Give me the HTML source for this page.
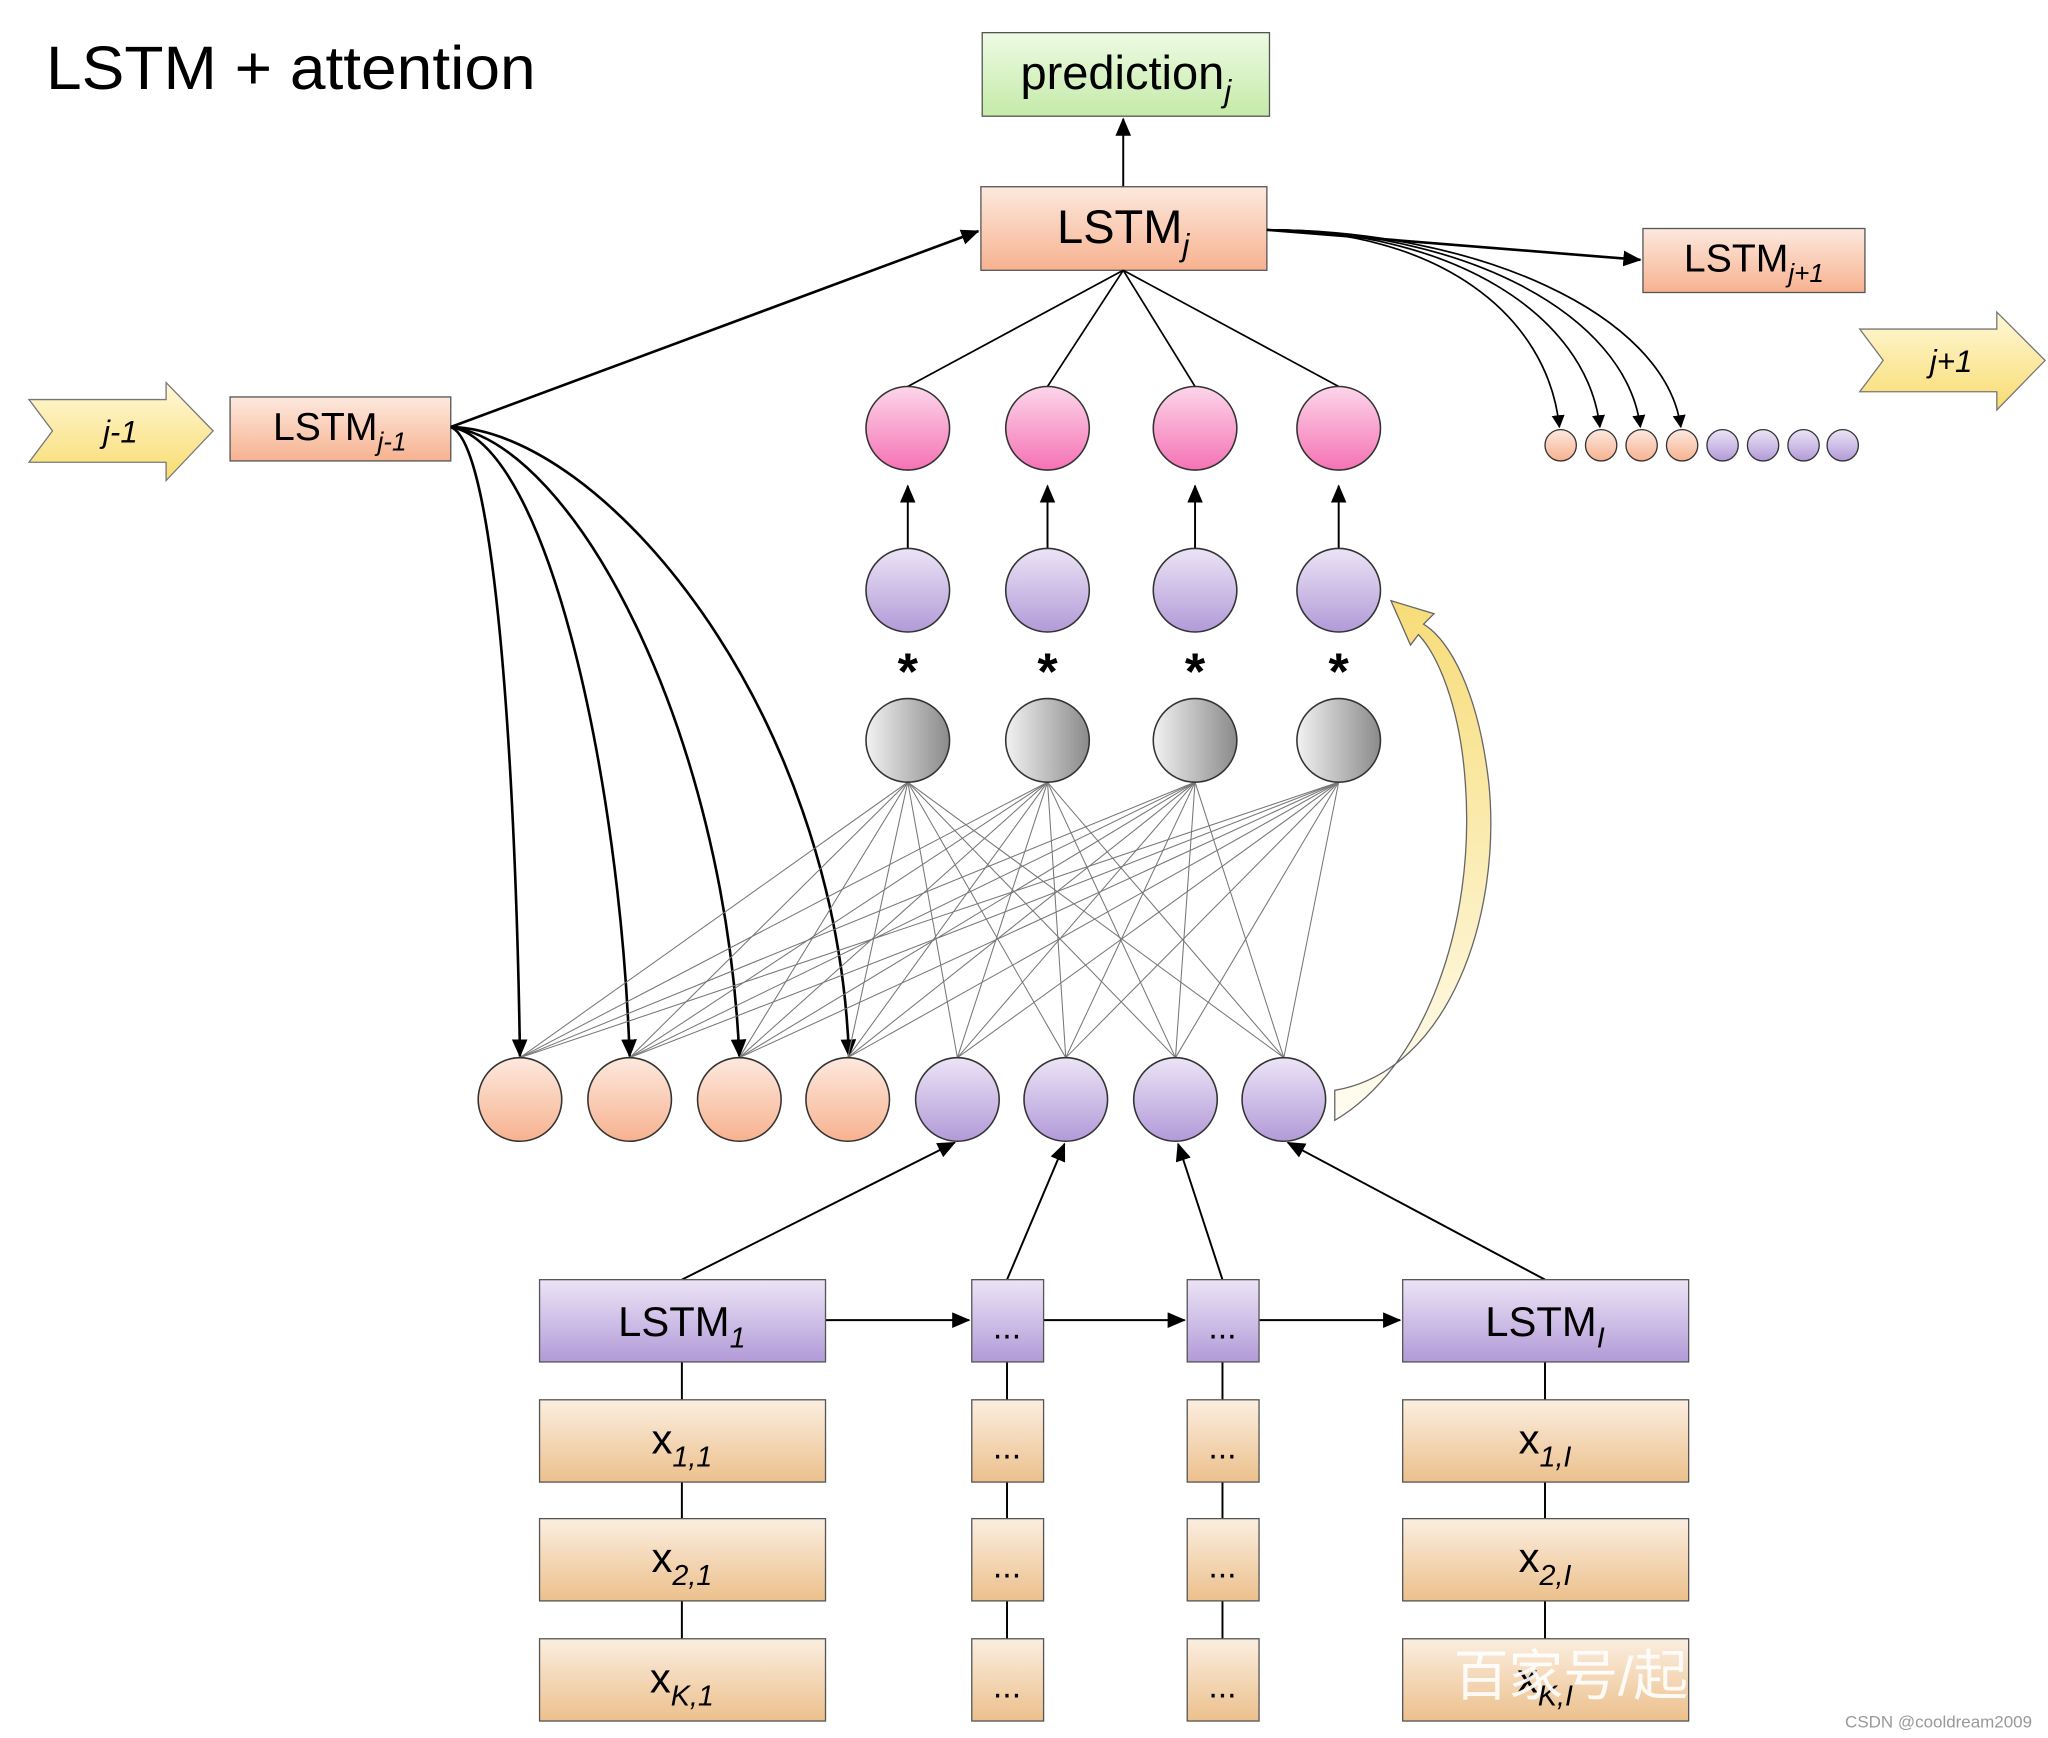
<!DOCTYPE html>
<html><head><meta charset="utf-8"><style>
html,body{margin:0;padding:0;background:#fff;}
svg{display:block;}
text{font-family:"Liberation Sans","Noto Sans CJK SC",sans-serif;}
</style></head><body>
<svg width="2048" height="1738" viewBox="0 0 1568 1331" xmlns="http://www.w3.org/2000/svg">
<defs>
<linearGradient id="gr" x1="0" y1="0" x2="0" y2="1"><stop offset="0" stop-color="#eefbe4"/><stop offset="1" stop-color="#c4eaa8"/></linearGradient>
<linearGradient id="sa" x1="0" y1="0" x2="0" y2="1"><stop offset="0" stop-color="#fde9de"/><stop offset="1" stop-color="#f7b290"/></linearGradient>
<linearGradient id="pu" x1="0" y1="0" x2="0" y2="1"><stop offset="0" stop-color="#ece4f6"/><stop offset="1" stop-color="#b29ad8"/></linearGradient>
<linearGradient id="ta" x1="0" y1="0" x2="0" y2="1"><stop offset="0" stop-color="#fbeee0"/><stop offset="1" stop-color="#ecc08c"/></linearGradient>
<linearGradient id="pk" x1="0" y1="0" x2="0" y2="1"><stop offset="0" stop-color="#fcd6ea"/><stop offset="1" stop-color="#f572b4"/></linearGradient>
<linearGradient id="gy" x1="0" y1="0" x2="1" y2="0"><stop offset="0" stop-color="#f2f2f2"/><stop offset="1" stop-color="#8a8a8a"/></linearGradient>
<linearGradient id="ye" x1="0" y1="0" x2="0" y2="1"><stop offset="0" stop-color="#fff8d8"/><stop offset="1" stop-color="#f8dc70"/></linearGradient>
<linearGradient id="ya" x1="0" y1="1" x2="0" y2="0"><stop offset="0" stop-color="#fffdf2"/><stop offset="1" stop-color="#f7dc78"/></linearGradient>
<marker id="ar" markerWidth="10" markerHeight="10" refX="9" refY="5" orient="auto" markerUnits="userSpaceOnUse"><path d="M0,0 L10,5 L0,10 z" fill="#000"/></marker>
<marker id="ars" markerWidth="14" markerHeight="12" refX="13" refY="6" orient="auto" markerUnits="userSpaceOnUse"><path d="M0,0 L14,6 L0,12 z" fill="#000"/></marker>
</defs>

<text x="35" y="68" font-size="47" textLength="375" lengthAdjust="spacingAndGlyphs">LSTM + attention</text>

<rect x="752" y="25" width="220" height="64" fill="url(#gr)" stroke="#555"/>
<text x="862" y="68" font-size="36" text-anchor="middle">prediction<tspan font-size="24" dy="10" font-style="italic">j</tspan></text>
<line x1="860" y1="143" x2="860" y2="91" stroke="#000" stroke-width="1.5" marker-end="url(#ars)"/>

<rect x="751" y="143" width="219" height="64" fill="url(#sa)" stroke="#555"/>
<text x="860" y="186" font-size="36" text-anchor="middle">LSTM<tspan font-size="24" dy="10" font-style="italic">j</tspan></text>

<rect x="1258" y="175" width="170" height="49" fill="url(#sa)" stroke="#555"/>
<text x="1343" y="208" font-size="30" text-anchor="middle">LSTM<tspan font-size="20" dy="8" font-style="italic">j+1</tspan></text>
<line x1="970" y1="176" x2="1256" y2="199" stroke="#000" stroke-width="2" marker-end="url(#ars)"/>

<rect x="176" y="304" width="169" height="49" fill="url(#sa)" stroke="#555"/>
<text x="260" y="337" font-size="30" text-anchor="middle">LSTM<tspan font-size="20" dy="8" font-style="italic">j-1</tspan></text>
<line x1="345" y1="327" x2="749" y2="177" stroke="#000" stroke-width="2" marker-end="url(#ars)"/>

<path d="M22,306 L127,306 L127,293 L163,330 L127,368 L127,354 L22,354 L40,330 z" fill="url(#ye)" stroke="#777"/>
<text x="92" y="339" font-size="24" text-anchor="middle" font-style="italic">j-1</text>
<path d="M1424,252 L1529,252 L1529,239 L1566,276 L1529,314 L1529,300 L1424,300 L1442,276 z" fill="url(#ye)" stroke="#777"/>
<text x="1494" y="285" font-size="24" text-anchor="middle" font-style="italic">j+1</text>

<g fill="none" stroke="#000" stroke-width="1.3" marker-end="url(#ar)">
<path d="M970,176 C1100,176 1185,240 1194,327"/>
<path d="M970,176 C1110,176 1215,240 1225,327"/>
<path d="M970,176 C1120,176 1245,240 1256,327"/>
<path d="M970,176 C1130,176 1275,240 1287,327"/>
</g>
<g stroke="#333" stroke-width="1">
<circle cx="1195" cy="341" r="12" fill="url(#sa)"/>
<circle cx="1226" cy="341" r="12" fill="url(#sa)"/>
<circle cx="1257" cy="341" r="12" fill="url(#sa)"/>
<circle cx="1288" cy="341" r="12" fill="url(#sa)"/>
<circle cx="1319" cy="341" r="12" fill="url(#pu)"/>
<circle cx="1350" cy="341" r="12" fill="url(#pu)"/>
<circle cx="1381" cy="341" r="12" fill="url(#pu)"/>
<circle cx="1411" cy="341" r="12" fill="url(#pu)"/>
</g>

<g fill="none" stroke="#000" stroke-width="2" marker-end="url(#ars)">
<path d="M345,327 C380,340 395,600 398,809"/>
<path d="M345,327 C420,340 475,600 482,809"/>
<path d="M345,327 C440,340 555,560 566,809"/>
<path d="M345,327 C460,330 640,540 650,809"/>
</g>

<g stroke="#000" stroke-width="1.3">
<line x1="860" y1="207" x2="695" y2="296"/>
<line x1="860" y1="207" x2="802" y2="296"/>
<line x1="860" y1="207" x2="915" y2="296"/>
<line x1="860" y1="207" x2="1025" y2="296"/>
</g>

<g stroke="#777" stroke-width="0.8">
<line x1="695" y1="599" x2="398" y2="810"/><line x1="695" y1="599" x2="482" y2="810"/><line x1="695" y1="599" x2="566" y2="810"/><line x1="695" y1="599" x2="649" y2="810"/><line x1="695" y1="599" x2="733" y2="810"/><line x1="695" y1="599" x2="816" y2="810"/><line x1="695" y1="599" x2="900" y2="810"/><line x1="695" y1="599" x2="983" y2="810"/>
<line x1="802" y1="599" x2="398" y2="810"/><line x1="802" y1="599" x2="482" y2="810"/><line x1="802" y1="599" x2="566" y2="810"/><line x1="802" y1="599" x2="649" y2="810"/><line x1="802" y1="599" x2="733" y2="810"/><line x1="802" y1="599" x2="816" y2="810"/><line x1="802" y1="599" x2="900" y2="810"/><line x1="802" y1="599" x2="983" y2="810"/>
<line x1="915" y1="599" x2="398" y2="810"/><line x1="915" y1="599" x2="482" y2="810"/><line x1="915" y1="599" x2="566" y2="810"/><line x1="915" y1="599" x2="649" y2="810"/><line x1="915" y1="599" x2="733" y2="810"/><line x1="915" y1="599" x2="816" y2="810"/><line x1="915" y1="599" x2="900" y2="810"/><line x1="915" y1="599" x2="983" y2="810"/>
<line x1="1025" y1="599" x2="398" y2="810"/><line x1="1025" y1="599" x2="482" y2="810"/><line x1="1025" y1="599" x2="566" y2="810"/><line x1="1025" y1="599" x2="649" y2="810"/><line x1="1025" y1="599" x2="733" y2="810"/><line x1="1025" y1="599" x2="816" y2="810"/><line x1="1025" y1="599" x2="900" y2="810"/><line x1="1025" y1="599" x2="983" y2="810"/>
</g>

<g stroke="#333" stroke-width="1.2">
<line x1="695" y1="420" x2="695" y2="372" stroke="#000" stroke-width="1.5" marker-end="url(#ars)"/>
<line x1="802" y1="420" x2="802" y2="372" stroke="#000" stroke-width="1.5" marker-end="url(#ars)"/>
<line x1="915" y1="420" x2="915" y2="372" stroke="#000" stroke-width="1.5" marker-end="url(#ars)"/>
<line x1="1025" y1="420" x2="1025" y2="372" stroke="#000" stroke-width="1.5" marker-end="url(#ars)"/>
<circle cx="695" cy="328" r="32" fill="url(#pk)"/><circle cx="802" cy="328" r="32" fill="url(#pk)"/><circle cx="915" cy="328" r="32" fill="url(#pk)"/><circle cx="1025" cy="328" r="32" fill="url(#pk)"/>
<circle cx="695" cy="452" r="32" fill="url(#pu)"/><circle cx="802" cy="452" r="32" fill="url(#pu)"/><circle cx="915" cy="452" r="32" fill="url(#pu)"/><circle cx="1025" cy="452" r="32" fill="url(#pu)"/>
<circle cx="695" cy="567" r="32" fill="url(#gy)"/><circle cx="802" cy="567" r="32" fill="url(#gy)"/><circle cx="915" cy="567" r="32" fill="url(#gy)"/><circle cx="1025" cy="567" r="32" fill="url(#gy)"/>
</g>
<g font-size="40" text-anchor="middle" font-weight="bold">
<text x="695" y="528">*</text><text x="802" y="528">*</text><text x="915" y="528">*</text><text x="1025" y="528">*</text>
</g>

<g stroke="#333" stroke-width="1.2">
<circle cx="398" cy="842" r="32" fill="url(#sa)"/><circle cx="482" cy="842" r="32" fill="url(#sa)"/><circle cx="566" cy="842" r="32" fill="url(#sa)"/><circle cx="649" cy="842" r="32" fill="url(#sa)"/>
<circle cx="733" cy="842" r="32" fill="url(#pu)"/><circle cx="816" cy="842" r="32" fill="url(#pu)"/><circle cx="900" cy="842" r="32" fill="url(#pu)"/><circle cx="983" cy="842" r="32" fill="url(#pu)"/>
</g>

<path d="M1022,835 C1110,820 1150,700 1140,600 C1132,530 1110,490 1090,478 L1098,470 L1065,460 L1080,494 L1086,486 C1100,500 1118,540 1122,600 C1130,710 1090,818 1022,858 z" fill="url(#ya)" stroke="#666"/>

<g stroke="#000" stroke-width="1.5" marker-end="url(#ars)">
<line x1="522" y1="980" x2="731" y2="875"/>
<line x1="771" y1="980" x2="815" y2="876"/>
<line x1="936" y1="980" x2="902" y2="876"/>
<line x1="1183" y1="980" x2="986" y2="875"/>
</g>

<g stroke="#000" stroke-width="1.5">
<line x1="522" y1="1043" x2="522" y2="1255"/><line x1="771" y1="1043" x2="771" y2="1255"/><line x1="936" y1="1043" x2="936" y2="1255"/><line x1="1183" y1="1043" x2="1183" y2="1255"/>
<line x1="632" y1="1011" x2="742" y2="1011" marker-end="url(#ars)"/>
<line x1="799" y1="1011" x2="907" y2="1011" marker-end="url(#ars)"/>
<line x1="964" y1="1011" x2="1072" y2="1011" marker-end="url(#ars)"/>
</g>
<g stroke="#555" stroke-width="1">
<rect x="413" y="980" width="219" height="63" fill="url(#pu)"/>
<rect x="744" y="980" width="55" height="63" fill="url(#pu)"/>
<rect x="909" y="980" width="55" height="63" fill="url(#pu)"/>
<rect x="1074" y="980" width="219" height="63" fill="url(#pu)"/>
<rect x="413" y="1072" width="219" height="63" fill="url(#ta)"/><rect x="744" y="1072" width="55" height="63" fill="url(#ta)"/><rect x="909" y="1072" width="55" height="63" fill="url(#ta)"/><rect x="1074" y="1072" width="219" height="63" fill="url(#ta)"/>
<rect x="413" y="1163" width="219" height="63" fill="url(#ta)"/><rect x="744" y="1163" width="55" height="63" fill="url(#ta)"/><rect x="909" y="1163" width="55" height="63" fill="url(#ta)"/><rect x="1074" y="1163" width="219" height="63" fill="url(#ta)"/>
<rect x="413" y="1255" width="219" height="63" fill="url(#ta)"/><rect x="744" y="1255" width="55" height="63" fill="url(#ta)"/><rect x="909" y="1255" width="55" height="63" fill="url(#ta)"/><rect x="1074" y="1255" width="219" height="63" fill="url(#ta)"/>
</g>
<g font-size="32" text-anchor="middle">
<text x="522" y="1023">LSTM<tspan font-size="22" dy="9" font-style="italic">1</tspan></text>
<text x="1183" y="1023">LSTM<tspan font-size="22" dy="9" font-style="italic">I</tspan></text>
<text x="771" y="1025" font-size="26">...</text><text x="936" y="1025" font-size="26">...</text>
<text x="771" y="1117" font-size="26">...</text><text x="936" y="1117" font-size="26">...</text>
<text x="771" y="1208" font-size="26">...</text><text x="936" y="1208" font-size="26">...</text>
<text x="771" y="1300" font-size="26">...</text><text x="936" y="1300" font-size="26">...</text>
<text x="522" y="1113">x<tspan font-size="22" dy="10" font-style="italic">1,1</tspan></text>
<text x="522" y="1204">x<tspan font-size="22" dy="10" font-style="italic">2,1</tspan></text>
<text x="522" y="1296">x<tspan font-size="22" dy="10" font-style="italic">K,1</tspan></text>
<text x="1183" y="1113">x<tspan font-size="22" dy="10" font-style="italic">1,I</tspan></text>
<text x="1183" y="1204">x<tspan font-size="22" dy="10" font-style="italic">2,I</tspan></text>
<text x="1183" y="1296">x<tspan font-size="22" dy="10" font-style="italic">K,I</tspan></text>
</g>
<text x="1113" y="1298" font-size="42" fill="#fff" opacity="0.9">百家号/起</text>
<rect x="1294" y="1250" width="40" height="75" fill="#fff"/>
<text x="1556" y="1323" font-size="13" fill="#999" text-anchor="end">CSDN @cooldream2009</text>
</svg>
</body></html>
